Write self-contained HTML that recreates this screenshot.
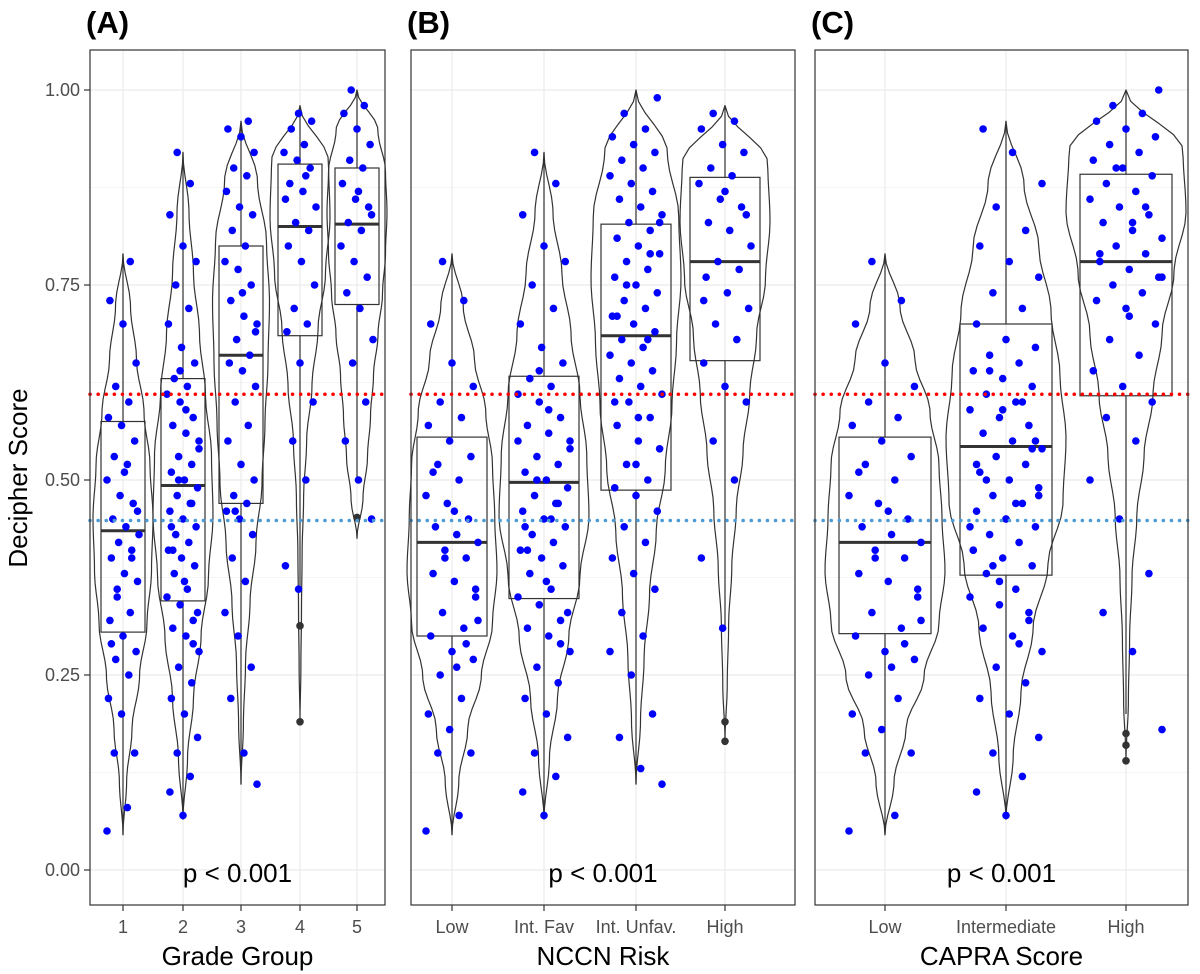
<!DOCTYPE html>
<html><head><meta charset="utf-8"><style>
body{margin:0;background:#fff;}
svg{display:block;font-family:"Liberation Sans",sans-serif;}
</style></head><body>
<svg id="chart" width="1200" height="974" xmlns="http://www.w3.org/2000/svg"></svg>
<script>
// ---- data ----
const panelTitles = ["(A)","(B)","(C)"];
const axisTitles = ["Grade Group","NCCN Risk","CAPRA Score"];
const catsA = ["1","2","3","4","5"];
const catsB = ["Low","Int. Fav","Int. Unfav.","High"];
const catsC = ["Low","Intermediate","High"];
const yTicks = [0,0.25,0.5,0.75,1.0];
const yTickLabels = ["0.00","0.25","0.50","0.75","1.00"];
const redLine = 0.61;
const blueLine = 0.448;
const pLabel = "p < 0.001";
// box stats: [lowWhisker, q1, median, q3, highWhisker]
const boxA = [[0.045,0.305,0.435,0.575,0.79],[0.065,0.345,0.493,0.63,0.92],[0.11,0.47,0.66,0.80,0.96],[0.36,0.685,0.825,0.905,0.98],[0.50,0.725,0.828,0.90,1.0]];
const boxB = [[0.045,0.30,0.42,0.555,0.79],[0.065,0.348,0.497,0.633,0.92],[0.11,0.487,0.685,0.828,1.0],[0.31,0.653,0.78,0.888,0.98]];
const boxC = [[0.045,0.303,0.42,0.555,0.79],[0.065,0.378,0.543,0.70,0.96],[0.20,0.608,0.78,0.892,1.0]];
const outA = [[],[],[],[0.313,0.19],[0.452]];
const outB = [[],[],[],[0.19,0.165]];
const outC = [[],[],[0.175,0.16,0.14]];
// violin: [min,max] and relative density at evenly spaced levels
const vRangeA = [[0.045,0.79],[0.065,0.92],[0.11,0.96],[0.19,0.98],[0.425,1.0]];
const vDensA = [[0,0.12,0.3,0.55,0.8,0.95,1,0.9,0.7,0.45,0.25,0],
  [0,0.15,0.35,0.6,0.85,1,0.95,0.75,0.55,0.35,0.2,0],
  [0,0.08,0.15,0.3,0.5,0.7,0.8,0.9,0.95,0.85,0.55,0],
  [0,0.03,0.05,0.07,0.12,0.22,0.4,0.6,0.85,1,0.95,0],
  [0,0.2,0.35,0.45,0.55,0.7,0.85,0.95,1,0.95,0.7,0]];
const vRangeB = [[0.045,0.79],[0.065,0.92],[0.11,1.0],[0.165,0.98]];
const vDensB = [[0,0.15,0.35,0.65,0.9,1,0.95,0.9,0.75,0.5,0.25,0],
  [0,0.12,0.3,0.55,0.8,1,0.95,0.8,0.6,0.4,0.2,0],
  [0,0.1,0.18,0.3,0.45,0.65,0.8,0.9,1,0.95,0.7,0],
  [0,0.05,0.08,0.15,0.25,0.4,0.55,0.7,0.9,1,0.95,0]];
const vRangeC = [[0.045,0.79],[0.065,0.96],[0.14,1.0]];
const vDensC = [[0,0.15,0.35,0.65,0.9,1,0.95,0.9,0.75,0.5,0.25,0],
  [0,0.12,0.25,0.45,0.7,0.95,1,0.9,0.75,0.55,0.3,0],
  [0,0.04,0.06,0.1,0.18,0.3,0.45,0.6,0.8,1,0.95,0]];
// jittered observations
const ptsA = [
 [0.05,0.08,0.15,0.15,0.2,0.22,0.25,0.27,0.28,0.3,0.32,0.33,0.35,0.37,0.38,0.4,0.41,0.42,0.43,0.44,0.45,0.47,0.48,0.5,0.52,0.53,0.55,0.57,0.58,0.6,0.62,0.65,0.7,0.73,0.78,0.36,0.46,0.51,0.29,0.4],
 [0.07,0.1,0.12,0.15,0.17,0.2,0.22,0.24,0.26,0.28,0.3,0.31,0.32,0.34,0.35,0.36,0.38,0.39,0.4,0.41,0.42,0.43,0.44,0.45,0.46,0.47,0.48,0.49,0.5,0.51,0.52,0.53,0.55,0.56,0.57,0.58,0.6,0.61,0.62,0.63,0.65,0.67,0.7,0.72,0.75,0.78,0.8,0.84,0.88,0.92,0.33,0.37,0.44,0.47,0.5,0.54,0.59,0.41,0.29,0.64],
 [0.11,0.15,0.22,0.26,0.3,0.33,0.37,0.4,0.43,0.45,0.46,0.47,0.48,0.5,0.52,0.55,0.57,0.6,0.62,0.64,0.65,0.66,0.68,0.7,0.71,0.73,0.75,0.77,0.78,0.8,0.82,0.84,0.85,0.87,0.89,0.9,0.92,0.94,0.95,0.96,0.46,0.69,0.74],
 [0.36,0.39,0.5,0.55,0.6,0.65,0.69,0.7,0.72,0.75,0.78,0.8,0.82,0.83,0.85,0.87,0.88,0.9,0.91,0.92,0.93,0.95,0.96,0.97,0.86,0.89],
 [0.45,0.5,0.55,0.6,0.65,0.68,0.72,0.74,0.76,0.78,0.8,0.82,0.83,0.85,0.86,0.88,0.9,0.91,0.93,0.95,0.97,0.98,1.0,0.84,0.87]];
const ptsB = [
 [0.05,0.07,0.15,0.15,0.18,0.2,0.22,0.25,0.27,0.28,0.3,0.31,0.33,0.35,0.37,0.38,0.4,0.41,0.42,0.43,0.44,0.45,0.47,0.48,0.5,0.52,0.53,0.55,0.57,0.58,0.6,0.62,0.65,0.7,0.73,0.78,0.36,0.46,0.51,0.29,0.4,0.32,0.26],
 [0.07,0.1,0.12,0.15,0.17,0.2,0.22,0.24,0.26,0.28,0.3,0.31,0.32,0.34,0.35,0.36,0.38,0.39,0.4,0.41,0.42,0.43,0.44,0.45,0.46,0.47,0.48,0.49,0.5,0.51,0.52,0.53,0.55,0.56,0.57,0.58,0.6,0.61,0.62,0.63,0.65,0.67,0.7,0.72,0.75,0.78,0.8,0.84,0.88,0.92,0.33,0.37,0.44,0.47,0.5,0.54,0.59,0.41,0.29,0.64,0.55,0.45],
 [0.11,0.13,0.17,0.2,0.25,0.28,0.3,0.33,0.36,0.38,0.4,0.42,0.44,0.46,0.48,0.49,0.5,0.52,0.54,0.55,0.57,0.58,0.6,0.61,0.62,0.63,0.64,0.65,0.66,0.67,0.68,0.69,0.7,0.71,0.72,0.73,0.74,0.75,0.76,0.77,0.78,0.79,0.8,0.81,0.82,0.83,0.84,0.85,0.86,0.87,0.88,0.89,0.9,0.91,0.92,0.93,0.94,0.95,0.97,0.99,0.52,0.6,0.68,0.75,0.83,0.58,0.71,0.79],
 [0.31,0.4,0.5,0.55,0.6,0.62,0.65,0.68,0.7,0.72,0.74,0.76,0.77,0.78,0.8,0.82,0.83,0.85,0.86,0.88,0.89,0.9,0.92,0.93,0.95,0.96,0.97,0.84,0.87,0.73]];
const ptsC = [
 [0.05,0.07,0.15,0.15,0.18,0.2,0.22,0.25,0.27,0.28,0.3,0.31,0.33,0.35,0.37,0.38,0.4,0.41,0.42,0.43,0.44,0.45,0.47,0.48,0.5,0.52,0.53,0.55,0.57,0.58,0.6,0.62,0.65,0.7,0.73,0.78,0.36,0.46,0.51,0.29,0.4,0.32,0.26],
 [0.07,0.1,0.12,0.15,0.17,0.2,0.22,0.24,0.26,0.28,0.3,0.31,0.32,0.34,0.35,0.36,0.38,0.39,0.4,0.41,0.42,0.43,0.44,0.45,0.46,0.47,0.48,0.49,0.5,0.51,0.52,0.53,0.54,0.55,0.56,0.57,0.58,0.59,0.6,0.61,0.62,0.63,0.64,0.65,0.66,0.67,0.68,0.7,0.72,0.74,0.76,0.78,0.8,0.82,0.85,0.88,0.92,0.95,0.33,0.37,0.44,0.47,0.5,0.54,0.59,0.41,0.29,0.64,0.55,0.45,0.52,0.6,0.39,0.48],
 [0.18,0.28,0.33,0.38,0.45,0.5,0.55,0.58,0.6,0.62,0.64,0.66,0.68,0.7,0.72,0.73,0.74,0.75,0.76,0.77,0.78,0.79,0.8,0.81,0.82,0.83,0.84,0.85,0.86,0.87,0.88,0.89,0.9,0.91,0.92,0.93,0.94,0.95,0.96,0.97,0.98,1.0,0.71,0.79,0.85,0.9,0.76,0.83]];

// ---- layout ----
const NS="http://www.w3.org/2000/svg";
const svg=document.getElementById('chart');
const yTop=90, yBot=870;
function yScale(v){return yBot-(yBot-yTop)*v;}
function el(tag,attrs,parent){const e=document.createElementNS(NS,tag);for(const k in attrs)e.setAttribute(k,attrs[k]);(parent||svg).appendChild(e);return e;}
function smoothDens(d,t){ // t in [0,1], cosine interpolation
  const n=d.length-1, f=t*n, k=Math.min(Math.floor(f),n-1), u=f-k;
  const w=(1-Math.cos(Math.PI*u))/2; return d[k]*(1-w)+d[k+1]*w;
}
const panels=[
 {x0:90,x1:385,cats:catsA,box:boxA,out:outA,vr:vRangeA,vd:vDensA,pts:ptsA,xs:[123,183,241,300,357],vw:30,bw:44,jit:16},
 {x0:411,x1:795,cats:catsB,box:boxB,out:outB,vr:vRangeB,vd:vDensB,pts:ptsB,xs:[452,544,636,725],vw:45,bw:70,jit:26},
 {x0:815,x1:1188,cats:catsC,box:boxC,out:outC,vr:vRangeC,vd:vDensC,pts:ptsC,xs:[885,1006,1126],vw:60,bw:92,jit:36}];
panels.forEach((p,pi)=>{
  const g=el('g',{});
  
  
  const pt=el('text',{x:p.x0-4,y:33,'font-size':31,'font-weight':'bold',fill:'#000'},g);
  pt.textContent=panelTitles[pi];
  
  
  for(let v=0;v<=1.0001;v+=0.125){
    el('line',{x1:p.x0,x2:p.x1,y1:yScale(v),y2:yScale(v),stroke:'#ebebeb','stroke-width':(Math.round(v*8)%2===0)?1.2:0.6},g);
  }
  p.xs.forEach(x=>el('line',{x1:x,x2:x,y1:50,y2:905,stroke:'#ebebeb','stroke-width':1.2},g));
  p.cats.forEach((c,i)=>{
    const cx=p.xs[i],[lo,hi]=p.vr[i],d=p.vd[i],N=60;
    let L=[],R=[];
    for(let k=0;k<=N;k++){const t=k/N;const v=lo+(hi-lo)*t;const y=yScale(v);const w=smoothDens(d,t)*p.vw;R.push((cx+w).toFixed(2)+','+y.toFixed(2));L.unshift((cx-w).toFixed(2)+','+y.toFixed(2));}
    const vp=el('polygon',{points:R.concat(L).join(' '),fill:'none',stroke:'#333','stroke-width':1.2,'stroke-linejoin':'round'},g);
    
    
    const b=p.box[i];
    el('line',{x1:cx,x2:cx,y1:yScale(b[0]),y2:yScale(b[1]),stroke:'#333','stroke-width':1.2},g);
    el('line',{x1:cx,x2:cx,y1:yScale(b[3]),y2:yScale(b[4]),stroke:'#333','stroke-width':1.2},g);
    const br=el('rect',{x:cx-p.bw/2,y:yScale(b[3]),width:p.bw,height:yScale(b[1])-yScale(b[3]),fill:'none',stroke:'#333','stroke-width':1.2},g);
    
    
    el('line',{x1:cx-p.bw/2,x2:cx+p.bw/2,y1:yScale(b[2]),y2:yScale(b[2]),stroke:'#333','stroke-width':3},g);
    p.out[i].forEach(v=>el('circle',{cx:cx,cy:yScale(v),r:3.8,fill:'#333'},g));
  });
  p.cats.forEach((c,i)=>{
    p.pts[i].forEach((v,k)=>{
      const off=(((k*37+i*11)%23)-11)/11*p.jit;
      const dot=el('circle',{cx:p.xs[i]+off,cy:yScale(v),r:3.8,fill:'#0000ff'},g);
      
      
    });
  });
  const rl=el('line',{x1:p.x0,x2:p.x1,y1:yScale(redLine),y2:yScale(redLine),stroke:'#ff0000','stroke-width':3.5,'stroke-dasharray':'0.1 8','stroke-linecap':'round'},g);
  
  
  const bl=el('line',{x1:p.x0,x2:p.x1,y1:yScale(blueLine),y2:yScale(blueLine),stroke:'#4a9bd6','stroke-width':3.5,'stroke-dasharray':'0.1 8','stroke-linecap':'round'},g);
  
  
  el('rect',{x:p.x0,y:50,width:p.x1-p.x0,height:855,fill:'none',stroke:'#333','stroke-width':1.2},g);
  const pl=el('text',{x:(p.x0+p.x1)/2,y:882,'font-size':26,'text-anchor':'middle',fill:'#000'},g);
  pl.textContent=pLabel;
  
  
  p.cats.forEach((c,i)=>{
    el('line',{x1:p.xs[i],x2:p.xs[i],y1:905,y2:911,stroke:'#333','stroke-width':1.2},g);
    const t=el('text',{x:p.xs[i],y:933,'font-size':18,'text-anchor':'middle',fill:'#4d4d4d'},g);
    t.textContent=c;
    
    
  });
  const xt=el('text',{x:(p.x0+p.x1)/2,y:965,'font-size':26,'text-anchor':'middle',fill:'#000'},g);
  xt.textContent=axisTitles[pi];
  
  
});
yTicks.forEach((v,i)=>{
  el('line',{x1:84,x2:90,y1:yScale(v),y2:yScale(v),stroke:'#333','stroke-width':1.2});
  const t=el('text',{x:80,y:yScale(v)+6,'font-size':18,'text-anchor':'end',fill:'#4d4d4d'});
  t.textContent=yTickLabels[i];
  
  
});
const yt=el('text',{x:0,y:0,'font-size':26,'text-anchor':'middle',fill:'#000',transform:'translate(27,478) rotate(-90)'});
yt.textContent='Decipher Score';


</script>
</body></html>
